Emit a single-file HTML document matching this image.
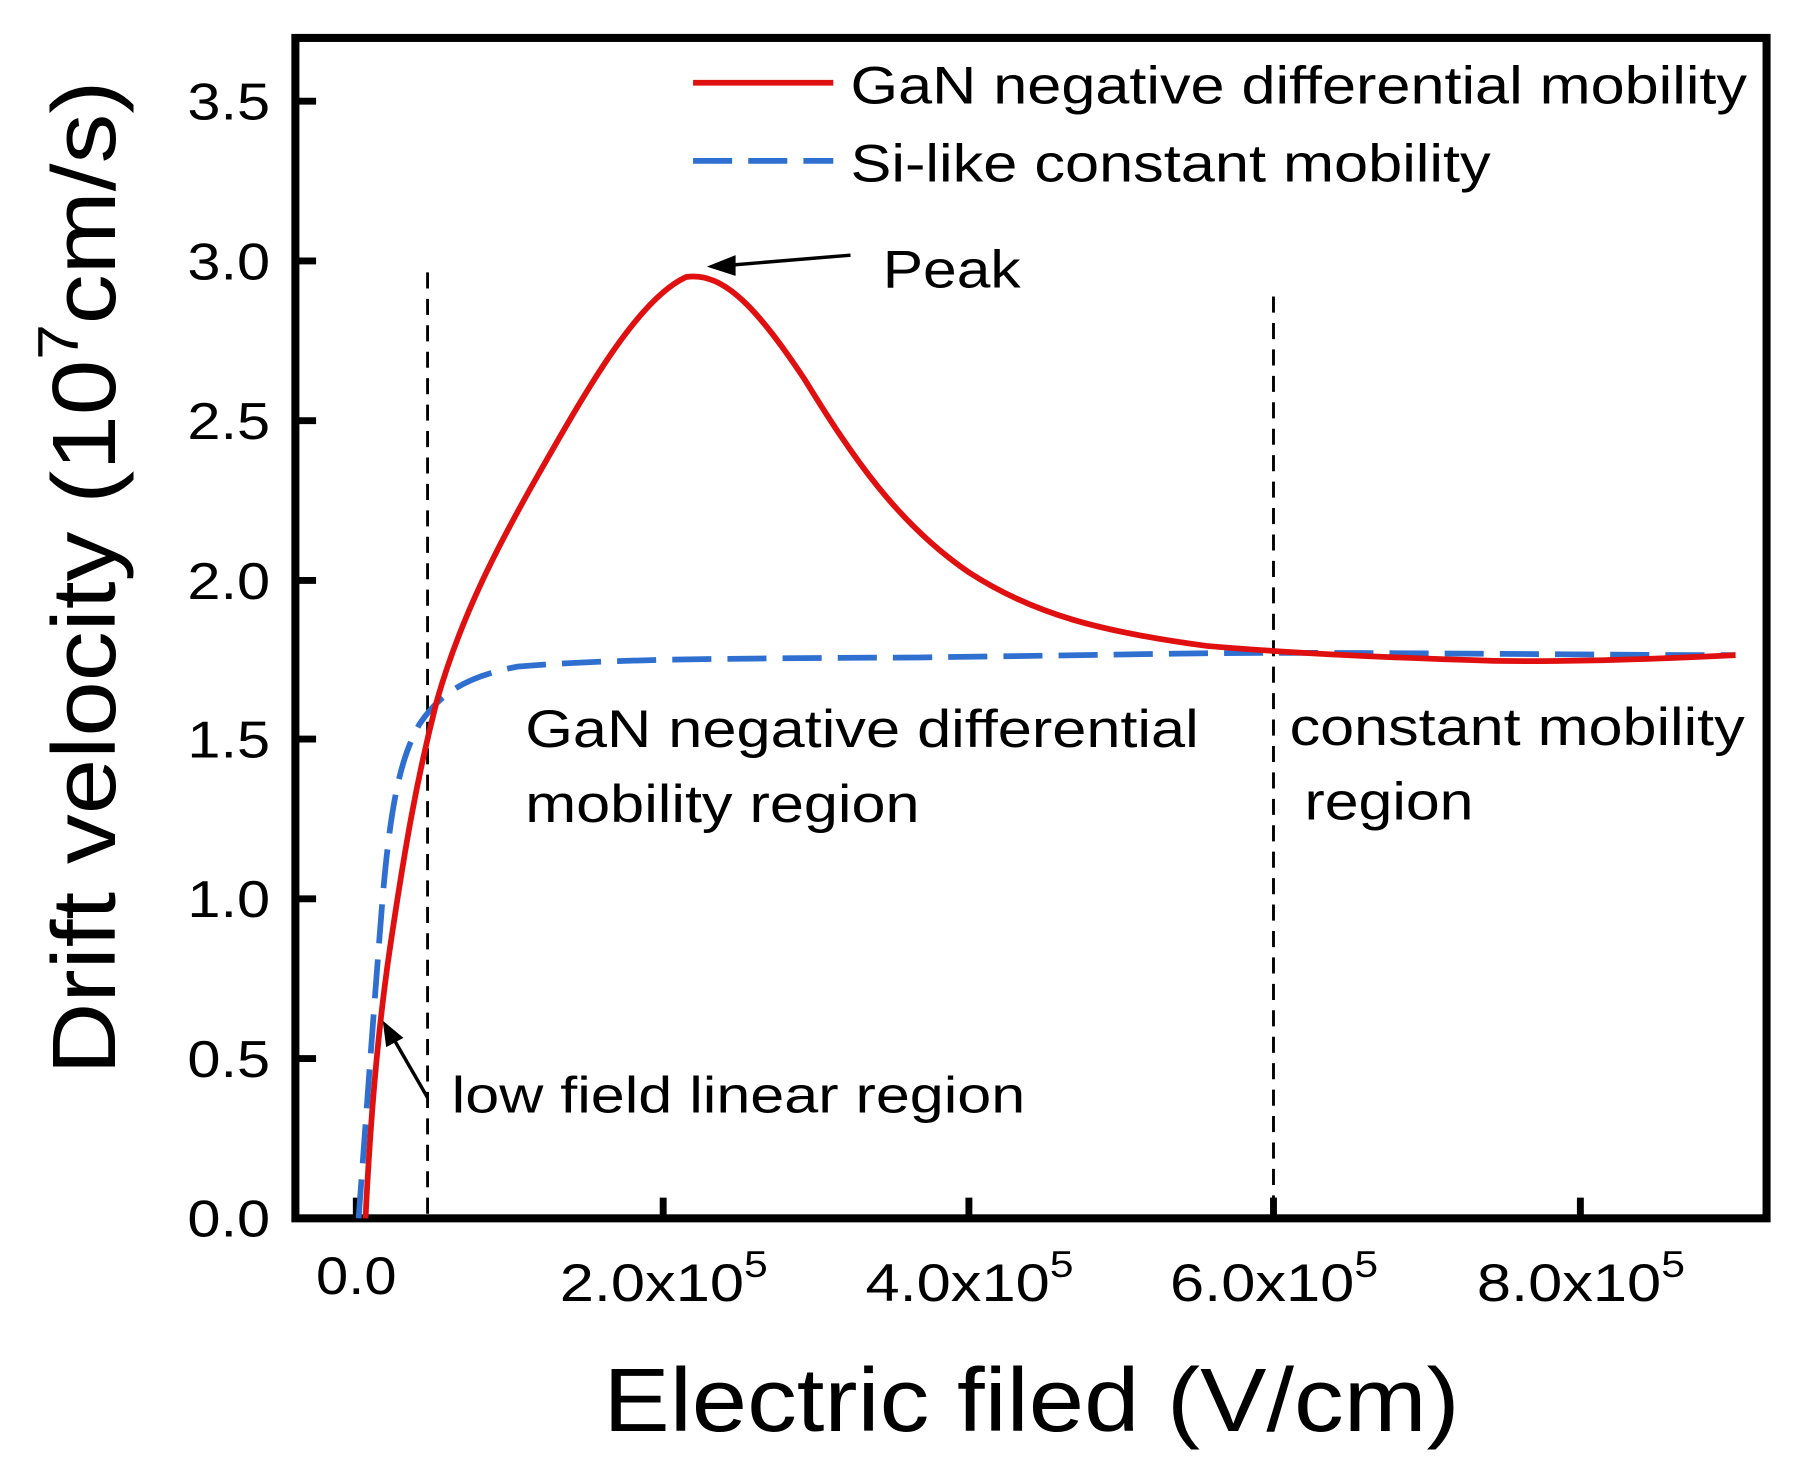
<!DOCTYPE html>
<html><head><style>
html,body{margin:0;padding:0;background:#fff;}
svg{display:block;}
text{font-family:"Liberation Sans",Arial,sans-serif;fill:#000;}
</style></head><body>
<svg width="1793" height="1462" viewBox="0 0 1560 1272" preserveAspectRatio="none" xmlns="http://www.w3.org/2000/svg">
<rect width="1560" height="1272" fill="#fff"/>
<rect x="257" y="33" width="1280" height="1027" fill="none" stroke="#000" stroke-width="7"/>
<g stroke="#000" stroke-width="6">
<line x1="257" y1="1060" x2="275" y2="1060"/>
<line x1="257" y1="921" x2="275" y2="921"/>
<line x1="257" y1="782" x2="275" y2="782"/>
<line x1="257" y1="643" x2="275" y2="643"/>
<line x1="257" y1="505" x2="275" y2="505"/>
<line x1="257" y1="366" x2="275" y2="366"/>
<line x1="257" y1="227" x2="275" y2="227"/>
<line x1="257" y1="88" x2="275" y2="88"/>
<line x1="310" y1="1060" x2="310" y2="1042"/>
<line x1="577" y1="1060" x2="577" y2="1042"/>
<line x1="843" y1="1060" x2="843" y2="1042"/>
<line x1="1108" y1="1060" x2="1108" y2="1042"/>
<line x1="1375" y1="1060" x2="1375" y2="1042"/>
</g>
<g font-size="45">
<text x="163" y="1076" textLength="72" lengthAdjust="spacingAndGlyphs">0.0</text>
<text x="163" y="937" textLength="72" lengthAdjust="spacingAndGlyphs">0.5</text>
<text x="163" y="798" textLength="72" lengthAdjust="spacingAndGlyphs">1.0</text>
<text x="163" y="659" textLength="72" lengthAdjust="spacingAndGlyphs">1.5</text>
<text x="163" y="521" textLength="72" lengthAdjust="spacingAndGlyphs">2.0</text>
<text x="163" y="382" textLength="72" lengthAdjust="spacingAndGlyphs">2.5</text>
<text x="163" y="243" textLength="72" lengthAdjust="spacingAndGlyphs">3.0</text>
<text x="163" y="104" textLength="72" lengthAdjust="spacingAndGlyphs">3.5</text>
</g>
<g font-size="46">
<text x="275" y="1126" textLength="70" lengthAdjust="spacingAndGlyphs">0.0</text>
<text x="487" y="1132" textLength="181" lengthAdjust="spacingAndGlyphs">2.0x10<tspan font-size="32" dy="-21">5</tspan></text>
<text x="753" y="1132" textLength="181" lengthAdjust="spacingAndGlyphs">4.0x10<tspan font-size="32" dy="-21">5</tspan></text>
<text x="1018" y="1132" textLength="181" lengthAdjust="spacingAndGlyphs">6.0x10<tspan font-size="32" dy="-21">5</tspan></text>
<text x="1285" y="1132" textLength="181" lengthAdjust="spacingAndGlyphs">8.0x10<tspan font-size="32" dy="-21">5</tspan></text>
</g>
<text x="525" y="1245" font-size="78" textLength="745" lengthAdjust="spacingAndGlyphs">Electric filed (V/cm)</text>
<text transform="translate(100,935) rotate(-90)" font-size="78" textLength="865" lengthAdjust="spacingAndGlyphs">Drift velocity (10<tspan font-size="50" dy="-32">7</tspan><tspan dy="32">cm/s)</tspan></text>
<g stroke="#000" stroke-width="2.5" stroke-dasharray="14,9">
<line x1="372" y1="237" x2="372" y2="1058"/>
<line x1="1108" y1="258" x2="1108" y2="1058"/>
</g>
<path d="M312,1060 C318,980 325,880 333,780 C340,700 348,660 365,630 C385,600 410,588 450,580 C520,574 600,573 800,572 C950,570 1050,568 1108,568 C1250,568 1400,570 1510,570" fill="none" stroke="#2f6fd0" stroke-width="5" stroke-dasharray="34,14"/>
<path d="M318,1060 C322,980 328,900 340,820 C352,740 362,680 380,610 C400,540 430,480 470,410 C510,340 555,260 597,241 C630,236 660,270 700,330 C740,395 780,455 843,498 C900,535 960,550 1050,562 C1108,567 1200,572 1300,575 C1375,576 1450,573 1510,570" fill="none" stroke="#e01010" stroke-width="5"/>
<line x1="603" y1="72" x2="725" y2="72" stroke="#e01010" stroke-width="5"/>
<line x1="603" y1="140" x2="725" y2="140" stroke="#2f6fd0" stroke-width="5" stroke-dasharray="34,14"/>
<text x="740" y="90" font-size="46" textLength="780" lengthAdjust="spacingAndGlyphs">GaN negative differential mobility</text>
<text x="740" y="158" font-size="46" textLength="557" lengthAdjust="spacingAndGlyphs">Si-like constant mobility</text>
<text x="768" y="250" font-size="46" textLength="120" lengthAdjust="spacingAndGlyphs">Peak</text>
<line x1="740" y1="222" x2="632" y2="231" stroke="#000" stroke-width="3"/>
<polygon points="615,232 640,222 640,240" fill="#000"/>
<text x="457" y="650" font-size="46" textLength="586" lengthAdjust="spacingAndGlyphs">GaN negative differential</text>
<text x="457" y="715" font-size="46" textLength="343" lengthAdjust="spacingAndGlyphs">mobility region</text>
<text x="1122" y="648" font-size="46" textLength="396" lengthAdjust="spacingAndGlyphs">constant mobility</text>
<text x="1135" y="713" font-size="46" textLength="147" lengthAdjust="spacingAndGlyphs">region</text>
<text x="393" y="968" font-size="44" textLength="499" lengthAdjust="spacingAndGlyphs">low field linear region</text>
<line x1="372" y1="955" x2="342" y2="903" stroke="#000" stroke-width="3"/>
<polygon points="333,888 351,903 336,911" fill="#000"/>
</svg>
</body></html>
